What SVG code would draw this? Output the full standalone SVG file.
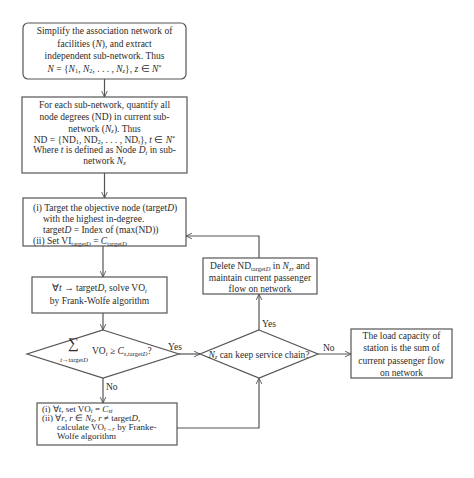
<svg xmlns="http://www.w3.org/2000/svg" width="474" height="478" viewBox="0 0 474 478">
<defs>
<marker id="ah" viewBox="0 0 10 10" refX="9.5" refY="5" markerWidth="7" markerHeight="7" markerUnits="userSpaceOnUse" orient="auto">
<path d="M1,1 L9.5,5 L1,9" fill="none" stroke="#555" stroke-width="1.3"/>
</marker>
<style>
rect,polygon{fill:#fff;stroke:#555;stroke-width:1.2}
.c path,.c line,.c polyline{fill:none;stroke:#555;stroke-width:1.2}
text{font-family:"Liberation Serif","Times New Roman",serif;font-size:9.5px;fill:#2b2b2b}
.m{text-anchor:middle}
.i{font-style:italic}
.s{font-size:6.5px}
.sm{font-size:9px}
</style>
</defs>
<rect width="474" height="478" fill="#fff" style="stroke:none"/>
<g class="c" id="connectors">
<line x1="104.5" y1="79" x2="104.5" y2="97" marker-end="url(#ah)"/>
<line x1="104.5" y1="173" x2="104.5" y2="198" marker-end="url(#ah)"/>
<line x1="103" y1="246" x2="103" y2="277" marker-end="url(#ah)"/>
<line x1="103" y1="313" x2="103" y2="330" marker-end="url(#ah)"/>
<line x1="103" y1="378" x2="103" y2="403" marker-end="url(#ah)"/>
<line x1="179" y1="354" x2="200" y2="354" marker-end="url(#ah)"/>
<line x1="259" y1="330" x2="259" y2="294" marker-end="url(#ah)"/>
<polyline points="259,258 259,236 186,236" marker-end="url(#ah)"/>
<line x1="318" y1="354" x2="351" y2="354" marker-end="url(#ah)"/>
<polyline points="177,428 259,428 259,378" marker-end="url(#ah)"/>
<text x="168" y="350">Yes</text>
<text x="262" y="327">Yes</text>
<text x="323" y="351">No</text>
<text x="106" y="390">No</text>
</g>
<g id="n1">
<rect x="23" y="23" width="163" height="56" rx="5"/>
<text class="m" x="104.5" y="34">Simplify the association network of</text>
<text class="m" x="104.5" y="46.5">facilities (<tspan class="i">N</tspan>), and extract</text>
<text class="m" x="104.5" y="59">independent sub-network. Thus</text>
<text class="m" x="104.5" y="71.5"><tspan class="i">N</tspan> = {<tspan class="i">N</tspan><tspan class="s" dy="1.5">1</tspan><tspan dy="-1.5">, </tspan><tspan class="i">N</tspan><tspan class="s" dy="1.5">2</tspan><tspan dy="-1.5">, . . . , </tspan><tspan class="i">N</tspan><tspan class="s i" dy="1.5">z</tspan><tspan dy="-1.5">}, </tspan><tspan class="i">z</tspan> ∈ <tspan class="i">N</tspan><tspan class="s" dy="-3">*</tspan></text>
</g>
<g id="n2">
<rect x="22" y="97" width="165" height="76"/>
<text class="m" x="104.5" y="108">For each sub-network, quantify all</text>
<text class="m" x="104.5" y="120">node degrees (ND) in current sub-</text>
<text class="m" x="104.5" y="131.5">network (<tspan class="i">N</tspan><tspan class="s i" dy="1.5">z</tspan><tspan dy="-1.5">). Thus</tspan></text>
<text class="m" x="104.5" y="142.5">ND = {ND<tspan class="s" dy="1.5">1</tspan><tspan dy="-1.5">, ND</tspan><tspan class="s" dy="1.5">2</tspan><tspan dy="-1.5">, . . . , ND</tspan><tspan class="s i" dy="1.5">t</tspan><tspan dy="-1.5">}, </tspan><tspan class="i">t</tspan> ∈ <tspan class="i">N</tspan><tspan class="s" dy="-3">*</tspan></text>
<text class="m" x="104.5" y="153">Where <tspan class="i">t</tspan> is defined as Node <tspan class="i">D</tspan><tspan class="s i" dy="1.5">t</tspan><tspan dy="-1.5"> in sub-</tspan></text>
<text class="m" x="104.5" y="163.5">network <tspan class="i">N</tspan><tspan class="s i" dy="1.5">z</tspan></text>
</g>
<g id="n3">
<rect x="23" y="198" width="163" height="48"/>
<text x="33" y="211">(i) Target the objective node (target<tspan class="i">D</tspan>)</text>
<text x="43" y="222">with the highest in-degree.</text>
<text x="43" y="233">target<tspan class="i">D</tspan> = Index of (max(ND))</text>
<text x="33" y="244">(ii) Set VI<tspan class="s" dy="1.5">target<tspan class="i">D</tspan></tspan><tspan dy="-1.5"> = </tspan><tspan class="i">C</tspan><tspan class="s" dy="1.5">target<tspan class="i">D</tspan></tspan></text>
</g>
<g id="n4">
<rect x="32" y="277" width="135" height="36"/>
<text class="m" x="99.5" y="291"><tspan>∀</tspan><tspan class="i">t</tspan> → target<tspan class="i">D</tspan>, solve VO<tspan class="s i" dy="1.5">t</tspan></text>
<text class="m" x="99.5" y="304">by Frank-Wolfe algorithm</text>
</g>
<g id="d1">
<polygon points="103,330 179,354 103,378 27,354"/>
<text class="m" x="73" y="348" style="font-size:15px">∑</text>
<text class="m s" x="74" y="362"><tspan class="i">t</tspan>→target<tspan class="i">D</tspan></text>
<text x="92" y="354">VO<tspan class="s i" dy="1.5">t</tspan><tspan dy="-1.5"> ≥ </tspan><tspan class="i">C</tspan><tspan class="s" dy="1.5"><tspan class="i">s</tspan>,target<tspan class="i">D</tspan></tspan><tspan dy="-1.5">?</tspan></text>
</g>
<g id="d2">
<polygon points="259,330 318,354 259,378 200,354"/>
<text class="m" x="259" y="357.5"><tspan class="i">N</tspan><tspan class="s i" dy="1.5">z</tspan><tspan dy="-1.5"> can keep service chain?</tspan></text>
</g>
<g id="n5">
<rect x="203" y="258" width="114" height="36"/>
<text class="m" x="260" y="269">Delete ND<tspan class="s" dy="1.5">target<tspan class="i">D</tspan></tspan><tspan dy="-1.5"> in </tspan><tspan class="i">N</tspan><tspan class="s i" dy="1.5">z</tspan><tspan dy="-1.5">, and</tspan></text>
<text class="m" x="260" y="281">maintain current passenger</text>
<text class="m" x="260" y="292">flow on network</text>
</g>
<g id="n6">
<rect x="351" y="329" width="101" height="49"/>
<text class="m" x="401.5" y="338.5">The load capacity of</text>
<text class="m" x="401.5" y="351">station is the sum of</text>
<text class="m" x="401.5" y="363.5">current passenger flow</text>
<text class="m" x="401.5" y="375.5">on network</text>
</g>
<g id="n7">
<rect x="37" y="403" width="140" height="42"/>
<text class="sm" x="42" y="411.5">(i) <tspan>∀</tspan><tspan class="i">t</tspan>, set VO<tspan class="s i" dy="1.5">t</tspan><tspan dy="-1.5"> = </tspan><tspan class="i">C</tspan><tspan class="s i" dy="1.5">st</tspan></text>
<text class="sm" x="42" y="420.5">(ii) <tspan>∀</tspan><tspan class="i">r</tspan>, <tspan class="i">r</tspan> ∈ <tspan class="i">N</tspan><tspan class="s i" dy="1.5">z</tspan><tspan dy="-1.5">, </tspan><tspan class="i">r</tspan> ≠ target<tspan class="i">D</tspan>,</text>
<text class="sm" x="57" y="429.5">calculate VO<tspan class="s i" dy="1.5">t→r</tspan><tspan dy="-1.5"> by Franke-</tspan></text>
<text class="sm" x="57" y="438.5">Wolfe algorithm</text>
</g>
</svg>
